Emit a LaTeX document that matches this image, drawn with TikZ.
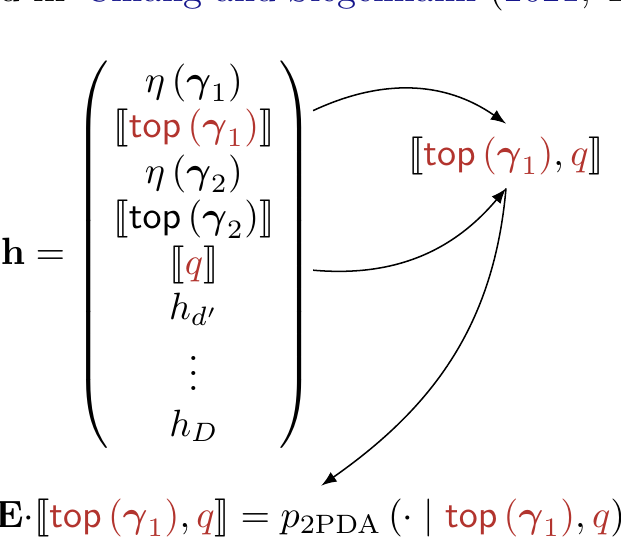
\documentclass[tikz,border=0pt]{standalone}
\usepackage{amsmath}
\usepackage{amssymb}
\usepackage{stmaryrd}
\usepackage{xcolor}
\usepackage{tikz}
\usetikzlibrary{matrix}
\usetikzlibrary{positioning}

\definecolor{topred}{RGB}{178,52,46}
\definecolor{citeblue}{RGB}{22,22,140}
\newcommand{\rd}[1]{\textcolor{topred}{#1}}
\newcommand{\topsym}{\mathsf{top}}
\newcommand{\bgam}{\boldsymbol{\gamma}}

\tikzset{
  link/.style={->, >=latex},
}

\begin{document}
\begin{tikzpicture}[x=0.2632pt, y=0.2632pt]
  \useasboundingbox (0,0) rectangle (621,540);

  % Define nodes
  \node[anchor=base west, inner sep=0pt] (cite) at (-1,539) {d in\hspace{5pt}\textcolor{citeblue}{Chiang and Siegelmann} (\textcolor{citeblue}{2021}, Thm.};
  \matrix (h) [matrix of math nodes, left delimiter=(, right delimiter=),
    nodes={inner sep=0pt, text height=8.4pt, text depth=3.6pt}, inner sep=0pt] at (194,285) {
    \eta\left(\bgam_1\right) \\
    \llbracket \rd{\topsym\left(\bgam_1\right)} \rrbracket \\
    \eta\left(\bgam_2\right) \\
    \llbracket \topsym\left(\bgam_2\right) \rrbracket \\
    \llbracket \rd{q} \rrbracket \\
    h_{d'} \\
    |[text height=15pt]| \vdots \\
    h_D \\
  };
  \node[left=9pt of h, yshift=1pt] (lhs) {$\mathbf{h} =$};
  \node (tq) at (506,384) {$\llbracket \rd{\topsym\left(\bgam_1\right)}, \rd{q} \rrbracket$};
  \node (eq) at (310,22) {$\mathbf{E}{\cdot}\llbracket \rd{\topsym\left(\bgam_1\right)}, \rd{q} \rrbracket = p_{\mathrm{2PDA}}\left(\cdot \mid \rd{\topsym\left(\bgam_1\right)}, \rd{q}\right)$};

  % Connect nodes
  \draw[link] ([xshift=10pt,yshift=-1.5pt]h.east |- h-2-1.north) to[out=25, in=145] (tq.north);
  \draw[link] ([xshift=10pt,yshift=-1.3pt]h.east |- h-5-1) to[out=-5, in=-130] (tq.south);
  \draw[link] (tq.south) to[out=-95, in=35] ([xshift=3pt]eq.north);
\end{tikzpicture}
\end{document}
